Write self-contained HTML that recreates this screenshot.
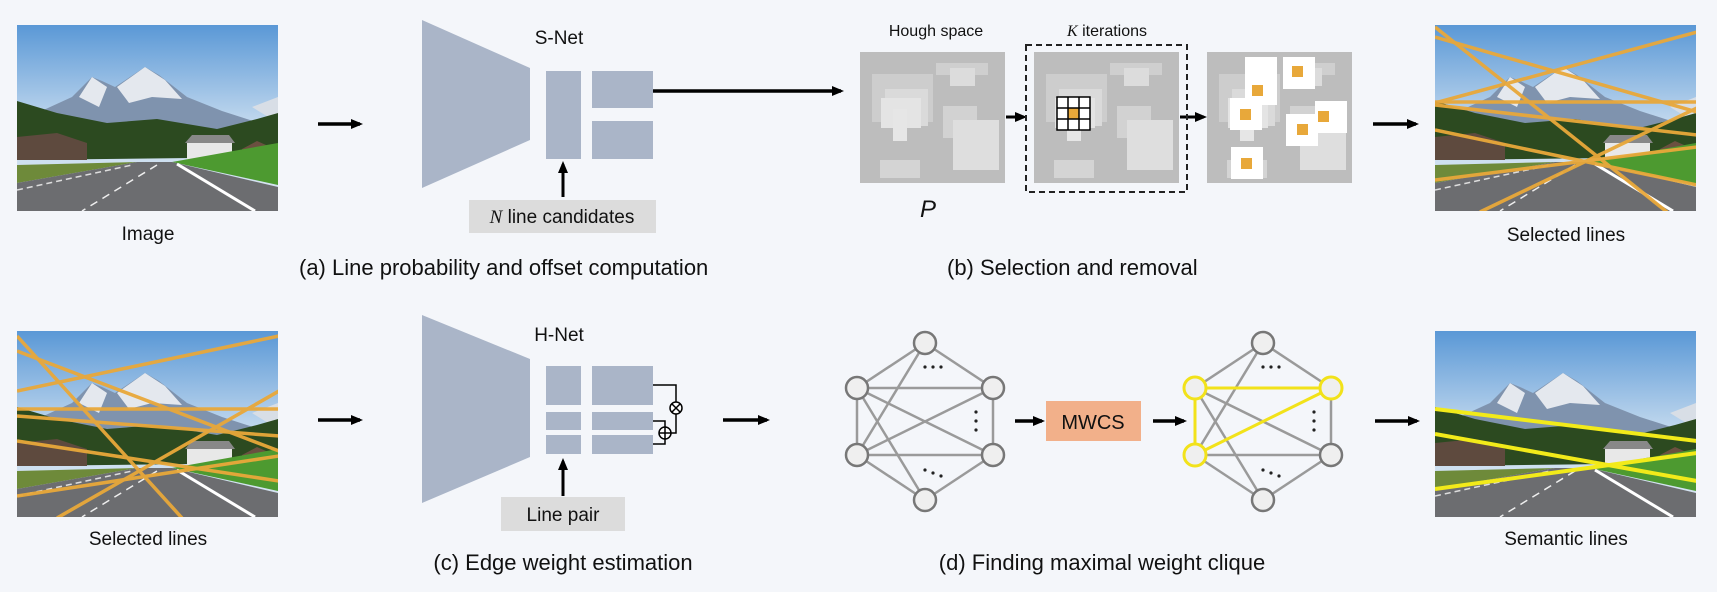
<!DOCTYPE html>
<html><head><meta charset="utf-8"><style>
html,body{margin:0;padding:0;background:#f4f6fa;}
svg{display:block;}
text{font-family:"Liberation Sans",sans-serif;fill:#111;}
</style></head><body>
<svg width="1717" height="592" viewBox="0 0 1717 592" xmlns="http://www.w3.org/2000/svg">
<defs>
<linearGradient id="sky" x1="0" y1="0" x2="0" y2="1">
<stop offset="0" stop-color="#5a98d6"/><stop offset="0.55" stop-color="#c6dbef"/><stop offset="1" stop-color="#dbe7f2"/>
</linearGradient>
<marker id="ah" markerWidth="12" markerHeight="10" refX="9" refY="5" orient="auto" markerUnits="userSpaceOnUse"><path d="M0,0 L12,5 L0,10 z" fill="#000"/></marker>
<clipPath id="pc"><rect x="0" y="0" width="261" height="186"/></clipPath>
<g id="photo">
<rect x="0" y="0" width="261" height="186" fill="url(#sky)"/>
<path d="M20,88 L55,72 L75,52 L85,56 L98,62 L128,42 L142,50 L170,72 L205,86 L261,104 L261,115 L0,115 Z" fill="#7f93ae"/>
<path d="M62,72 L75,52 L90,62 L82,82 Z M100,62 L128,42 L148,55 L165,74 L135,72 L112,78 Z" fill="#e4e8ee"/>
<path d="M235,82 L261,72 L261,98 Z" fill="#d8dee6"/>
<path d="M0,76 L40,88 L90,98 L140,94 L200,104 L240,94 L261,88 L261,132 L0,135 Z" fill="#2c4a20"/>
<path d="M0,112 L40,108 L70,118 L70,135 L0,135 Z" fill="#5e4a3e"/>
<rect x="170" y="118" width="45" height="20" fill="#e8e8e8"/><path d="M168,118 L175,110 L212,110 L218,118 Z" fill="#888"/>
<path d="M225,124 L240,116 L258,124 L258,134 L225,134 Z" fill="#6b5040"/>
<path d="M0,140 L120,137 L0,158 Z" fill="#6e8a3a"/>
<path d="M155,137 L261,118 L261,160 Z" fill="#4d9a30"/>
<path d="M0,158 L120,137 L155,137 L261,162 L261,186 L0,186 Z" fill="#6c6d70"/>
<path d="M160,139 L238,186" stroke="#fff" stroke-width="3" fill="none"/>
<path d="M0,165 L115,140" stroke="#ddd" stroke-width="1.5" fill="none" stroke-dasharray="6 4"/>
<path d="M140,140 L65,186" stroke="#eee" stroke-width="1.5" fill="none" stroke-dasharray="8 6"/>
</g>
</defs>
<rect width="1717" height="592" fill="#f4f6fa"/>

<g transform="translate(17,25)" clip-path="url(#pc)"><use href="#photo"/></g>
<text x="148" y="240" font-size="19" text-anchor="middle">Image</text>

<g transform="translate(1435,25)" clip-path="url(#pc)"><use href="#photo"/>
<g stroke="#e9a83a" stroke-width="3.5" fill="none" opacity="0.95">
<line x1="0" y1="2" x2="232" y2="187"/><line x1="0" y1="12" x2="262" y2="87"/>
<line x1="0" y1="78" x2="262" y2="7"/><line x1="0" y1="77" x2="262" y2="77"/>
<line x1="0" y1="80" x2="262" y2="110"/><line x1="0" y1="105" x2="262" y2="160"/>
<line x1="0" y1="155" x2="262" y2="122"/><line x1="45" y1="187" x2="262" y2="83"/>
</g></g>
<text x="1566" y="241" font-size="19" text-anchor="middle">Selected lines</text>

<g transform="translate(17,331)" clip-path="url(#pc)"><use href="#photo"/>
<g stroke="#e9a83a" stroke-width="3.5" fill="none" opacity="0.95">
<line x1="0" y1="5" x2="165" y2="187"/><line x1="0" y1="60" x2="262" y2="5"/>
<line x1="0" y1="20" x2="262" y2="120"/><line x1="0" y1="78" x2="262" y2="78"/>
<line x1="0" y1="85" x2="262" y2="105"/><line x1="0" y1="110" x2="262" y2="150"/>
<line x1="0" y1="165" x2="262" y2="125"/><line x1="40" y1="187" x2="262" y2="60"/>
</g></g>
<text x="148" y="545" font-size="19" text-anchor="middle">Selected lines</text>

<g transform="translate(1435,331)" clip-path="url(#pc)"><use href="#photo"/>
<g stroke="#f2ea1a" stroke-width="4" fill="none">
<line x1="0" y1="78" x2="262" y2="110"/><line x1="0" y1="103" x2="262" y2="150"/>
<line x1="0" y1="158" x2="262" y2="122"/>
</g></g>
<text x="1566" y="545" font-size="19" text-anchor="middle">Semantic lines</text>

<g stroke="#000" stroke-width="3.5" fill="none" marker-end="url(#ah)">
<line x1="318" y1="124" x2="360" y2="124"/>
<line x1="653" y1="91" x2="841" y2="91"/>
<line x1="1373" y1="124" x2="1416" y2="124"/>
<line x1="318" y1="420" x2="360" y2="420"/>
<line x1="723" y1="420" x2="767" y2="420"/>
<line x1="1015" y1="421" x2="1042" y2="421"/>
<line x1="1153" y1="421" x2="1184" y2="421"/>
<line x1="1375" y1="421" x2="1417" y2="421"/>
<line x1="1006" y1="117" x2="1024" y2="117" stroke-width="3"/>
<line x1="1180" y1="117" x2="1204" y2="117" stroke-width="3"/>
<line x1="563" y1="197" x2="563" y2="164" stroke-width="3"/>
<line x1="563" y1="496" x2="563" y2="461" stroke-width="3"/>
</g>

<path d="M422,20 L530,68 L530,140 L422,188 Z" fill="#aab5c8"/>
<text x="559" y="44" font-size="19" text-anchor="middle">S-Net</text>
<rect x="546" y="71" width="35" height="88" fill="#aab5c8"/>
<rect x="592" y="71" width="61" height="37" fill="#aab5c8"/>
<rect x="592" y="121" width="61" height="38" fill="#aab5c8"/>
<rect x="469" y="200" width="187" height="33" fill="#dcdcdc"/>
<text x="562" y="223" font-size="19" text-anchor="middle"><tspan font-family="Liberation Serif" font-style="italic">N</tspan> line candidates</text>

<path d="M422,315 L530,359 L530,457 L422,503 Z" fill="#aab5c8"/>
<text x="559" y="341" font-size="19" text-anchor="middle">H-Net</text>
<rect x="546" y="366" width="35" height="39" fill="#aab5c8"/>
<rect x="546" y="412" width="35" height="18" fill="#aab5c8"/>
<rect x="546" y="435" width="35" height="19" fill="#aab5c8"/>
<rect x="592" y="366" width="61" height="39" fill="#aab5c8"/>
<rect x="592" y="412" width="61" height="18" fill="#aab5c8"/>
<rect x="592" y="435" width="61" height="19" fill="#aab5c8"/>
<g stroke="#000" stroke-width="1.5" fill="none">
<path d="M653,385 L676,385 L676,402"/><path d="M676,414 L676,433 L671,433"/>
<path d="M653,421 L665,421 L665,427"/><path d="M653,444 L665,444 L665,439"/>
<circle cx="676" cy="408" r="6" fill="#fff"/><path d="M672,404 L680,412 M680,404 L672,412"/>
<circle cx="665" cy="433" r="6" fill="#fff"/><path d="M659,433 L671,433 M665,427 L665,439"/>
</g>
<rect x="501" y="497" width="124" height="34" fill="#dcdcdc"/>
<text x="563" y="521" font-size="19" text-anchor="middle">Line pair</text>

<text x="936" y="36" font-size="16" text-anchor="middle">Hough space</text>
<text x="1107" y="36" font-size="16" text-anchor="middle"><tspan font-family="Liberation Serif" font-style="italic">K</tspan> iterations</text>
<g id="hb">
<rect x="860" y="52" width="145" height="131" fill="#bdbdbd"/>
<rect x="872" y="74" width="61" height="48" fill="#cdcdcd"/>
<rect x="885" y="89" width="43" height="37" fill="#dadada"/>
<rect x="881" y="98" width="40" height="30" fill="#e4e4e4"/>
<rect x="893" y="109" width="14" height="32" fill="#e6e6e6"/>
<rect x="936" y="63" width="52" height="12" fill="#cfcfcf"/>
<rect x="950" y="68" width="25" height="18" fill="#dcdcdc"/>
<rect x="943" y="106" width="34" height="32" fill="#d2d2d2"/>
<rect x="953" y="120" width="46" height="50" fill="#dedede"/>
<rect x="880" y="160" width="40" height="18" fill="#d4d4d4"/>
</g>
<use href="#hb" x="174"/>
<use href="#hb" x="347"/>
<rect x="1026" y="45" width="161" height="147" fill="none" stroke="#222" stroke-width="2" stroke-dasharray="6 4"/>
<g transform="translate(1057,97)">
<rect width="33" height="33" fill="#fff"/>
<rect x="11" y="11" width="11" height="11" fill="#e8a83a"/>
<g stroke="#000" stroke-width="1.5" fill="none"><rect width="33" height="33"/><path d="M11,0V33M22,0V33M0,11H33M0,22H33"/></g>
</g>
<g fill="#fff">
<rect x="1245" y="57" width="32" height="32"/><rect x="1245" y="75" width="32" height="30"/><rect x="1230" y="98" width="32" height="32"/>
<rect x="1315" y="101" width="32" height="32"/><rect x="1286" y="114" width="32" height="32"/>
<rect x="1231" y="147" width="32" height="32"/>
</g>
<g fill="#e8a83a">
<rect x="1252" y="85" width="11" height="11"/>
<rect x="1240" y="109" width="11" height="11"/><rect x="1318" y="111" width="11" height="11"/>
<rect x="1297" y="124" width="11" height="11"/><rect x="1241" y="158" width="11" height="11"/>
</g>
<rect x="1283" y="57" width="32" height="32" fill="#fff"/><rect x="1292" y="66" width="11" height="11" fill="#e8a83a"/>
<text x="928" y="217" font-size="24" font-family="Liberation Serif" font-style="italic" text-anchor="middle">P</text>

<text x="299" y="275" font-size="22">(a)  Line probability and offset computation</text>
<text x="947" y="275" font-size="22">(b) Selection and removal</text>
<text x="563" y="570" font-size="22" text-anchor="middle">(c) Edge weight estimation</text>
<text x="1102" y="570" font-size="22" text-anchor="middle">(d) Finding maximal weight clique</text>

<g stroke="#9a9a9a" stroke-width="2.5" fill="none">
<line x1="925" y1="343" x2="857" y2="388"/><line x1="925" y1="343" x2="993" y2="388"/>
<line x1="925" y1="343" x2="857" y2="455"/>
<line x1="857" y1="388" x2="993" y2="388"/><line x1="857" y1="388" x2="857" y2="455"/>
<line x1="857" y1="388" x2="993" y2="455"/><line x1="857" y1="388" x2="925" y2="500"/>
<line x1="857" y1="455" x2="993" y2="388"/><line x1="857" y1="455" x2="993" y2="455"/>
<line x1="857" y1="455" x2="925" y2="500"/><line x1="993" y1="388" x2="993" y2="455"/>
<line x1="993" y1="455" x2="925" y2="500"/>
</g>
<g transform="translate(338,0)" stroke="#9a9a9a" stroke-width="2.5" fill="none">
<line x1="925" y1="343" x2="857" y2="388"/><line x1="925" y1="343" x2="993" y2="388"/>
<line x1="925" y1="343" x2="857" y2="455"/>
<line x1="857" y1="388" x2="993" y2="455"/><line x1="857" y1="388" x2="925" y2="500"/>
<line x1="857" y1="455" x2="993" y2="455"/>
<line x1="857" y1="455" x2="925" y2="500"/><line x1="993" y1="388" x2="993" y2="455"/>
<line x1="993" y1="455" x2="925" y2="500"/>
<g stroke="#f2e21a" stroke-width="3"><line x1="857" y1="388" x2="993" y2="388"/><line x1="857" y1="388" x2="857" y2="455"/><line x1="857" y1="455" x2="993" y2="388"/></g>
</g>
<g fill="#efefef" stroke="#777" stroke-width="2.5">
<circle cx="925" cy="343" r="11"/><circle cx="857" cy="388" r="11"/><circle cx="993" cy="388" r="11"/>
<circle cx="857" cy="455" r="11"/><circle cx="993" cy="455" r="11"/><circle cx="925" cy="500" r="11"/>
<circle cx="1263" cy="343" r="11"/><circle cx="1331" cy="455" r="11"/><circle cx="1263" cy="500" r="11"/>
</g>
<g fill="#efefef" stroke="#f2e21a" stroke-width="3">
<circle cx="1195" cy="388" r="11"/><circle cx="1331" cy="388" r="11"/><circle cx="1195" cy="455" r="11"/>
</g>
<g fill="#222">
<circle cx="925" cy="367" r="1.6"/><circle cx="933" cy="367" r="1.6"/><circle cx="941" cy="367" r="1.6"/>
<circle cx="976" cy="412" r="1.6"/><circle cx="976" cy="421" r="1.6"/><circle cx="976" cy="430" r="1.6"/>
<circle cx="925" cy="470" r="1.6"/><circle cx="933" cy="473" r="1.6"/><circle cx="941" cy="476" r="1.6"/>
<circle cx="1263" cy="367" r="1.6"/><circle cx="1271" cy="367" r="1.6"/><circle cx="1279" cy="367" r="1.6"/>
<circle cx="1314" cy="412" r="1.6"/><circle cx="1314" cy="421" r="1.6"/><circle cx="1314" cy="430" r="1.6"/>
<circle cx="1263" cy="470" r="1.6"/><circle cx="1271" cy="473" r="1.6"/><circle cx="1279" cy="476" r="1.6"/>
</g>
<rect x="1046" y="401" width="95" height="40" fill="#f2b08a"/>
<text x="1093" y="429" font-size="20" text-anchor="middle">MWCS</text>
</svg>
</body></html>
